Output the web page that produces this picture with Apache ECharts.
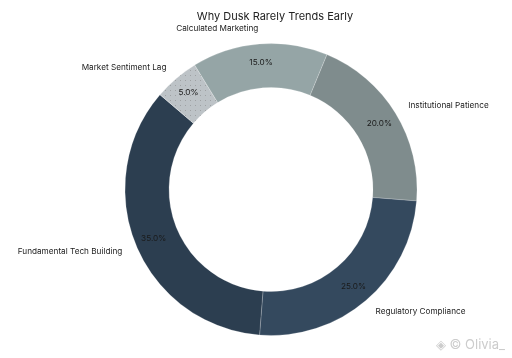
<!DOCTYPE html>
<html><head><meta charset="utf-8">
<script src="https://cdn.jsdelivr.net/npm/echarts@6/dist/echarts.min.js"></script>
<style>html,body{margin:0;padding:0;background:#fff}#c{width:512px;height:358px}</style>
</head><body><div id="c"></div>
<script>
const categories = ["Institutional Patience","Regulatory Compliance","Fundamental Tech Building","Market Sentiment Lag","Calculated Marketing"];
const values = [20, 25, 35, 5, 15];
const colors = ["#7f8c8d","#34495e","#2c3e50","#bdc3c7","#95a5a6"];
const FONT = "Inter, 'Open Sans', sans-serif";
const chart = echarts.init(document.getElementById('c'), null, {renderer:'canvas'});
const data = categories.map((n,i)=>{
  const d = {name:n, value:values[i], itemStyle:{color:colors[i]}};
  if (n === "Market Sentiment Lag") {
    d.itemStyle.decal = {symbol:'rect', symbolSize:1, color:'rgba(120,120,120,0.45)', dashArrayX:[1,4], dashArrayY:[1,4], rotation:0};
  }
  return d;
});
const total = values.reduce((a,b)=>a+b,0);
const base = {
  type:'pie', center:[271,189.5], radius:[102,146], startAngle:67.5, clockwise:true,
  avoidLabelOverlap:false, silent:true, animation:false, data:data
};
chart.setOption({
  backgroundColor:'#fff',
  title:{text:'Why Dusk Rarely Trends Early', left:270, top:6, textAlign:'center',
    textStyle:{fontFamily:FONT, fontSize:11, fontWeight:'normal', color:'#222'}},
  graphic:[{type:'text', right:7, bottom:6, style:{text:'◈ © Olivia_', fill:'#cccccc', font:"13px "+FONT}}],
  series:[
    Object.assign({}, base, {
      itemStyle:{borderColor:'rgba(255,255,255,0.4)', borderWidth:0.5},
      label:{show:true, position:'outside', distanceToLabelLine:0, fontFamily:FONT, fontSize:8.2, color:'#222',
        formatter:p=>p.name},
      labelLine:{show:false, length:15, length2:0}
    }),
    Object.assign({}, base, {
      itemStyle:{color:'rgba(0,0,0,0)', decal:null},
      data: data.map(d=>({name:d.name, value:d.value, itemStyle:{color:'rgba(0,0,0,0)'}})),
      label:{show:true, position:'inside', fontFamily:FONT, fontSize:8.2, color:'#1a1a1a',
        formatter:p=>(p.value/total*100).toFixed(1)+'%'},
      labelLine:{show:false}
    })
  ]
});
</script></body></html>
